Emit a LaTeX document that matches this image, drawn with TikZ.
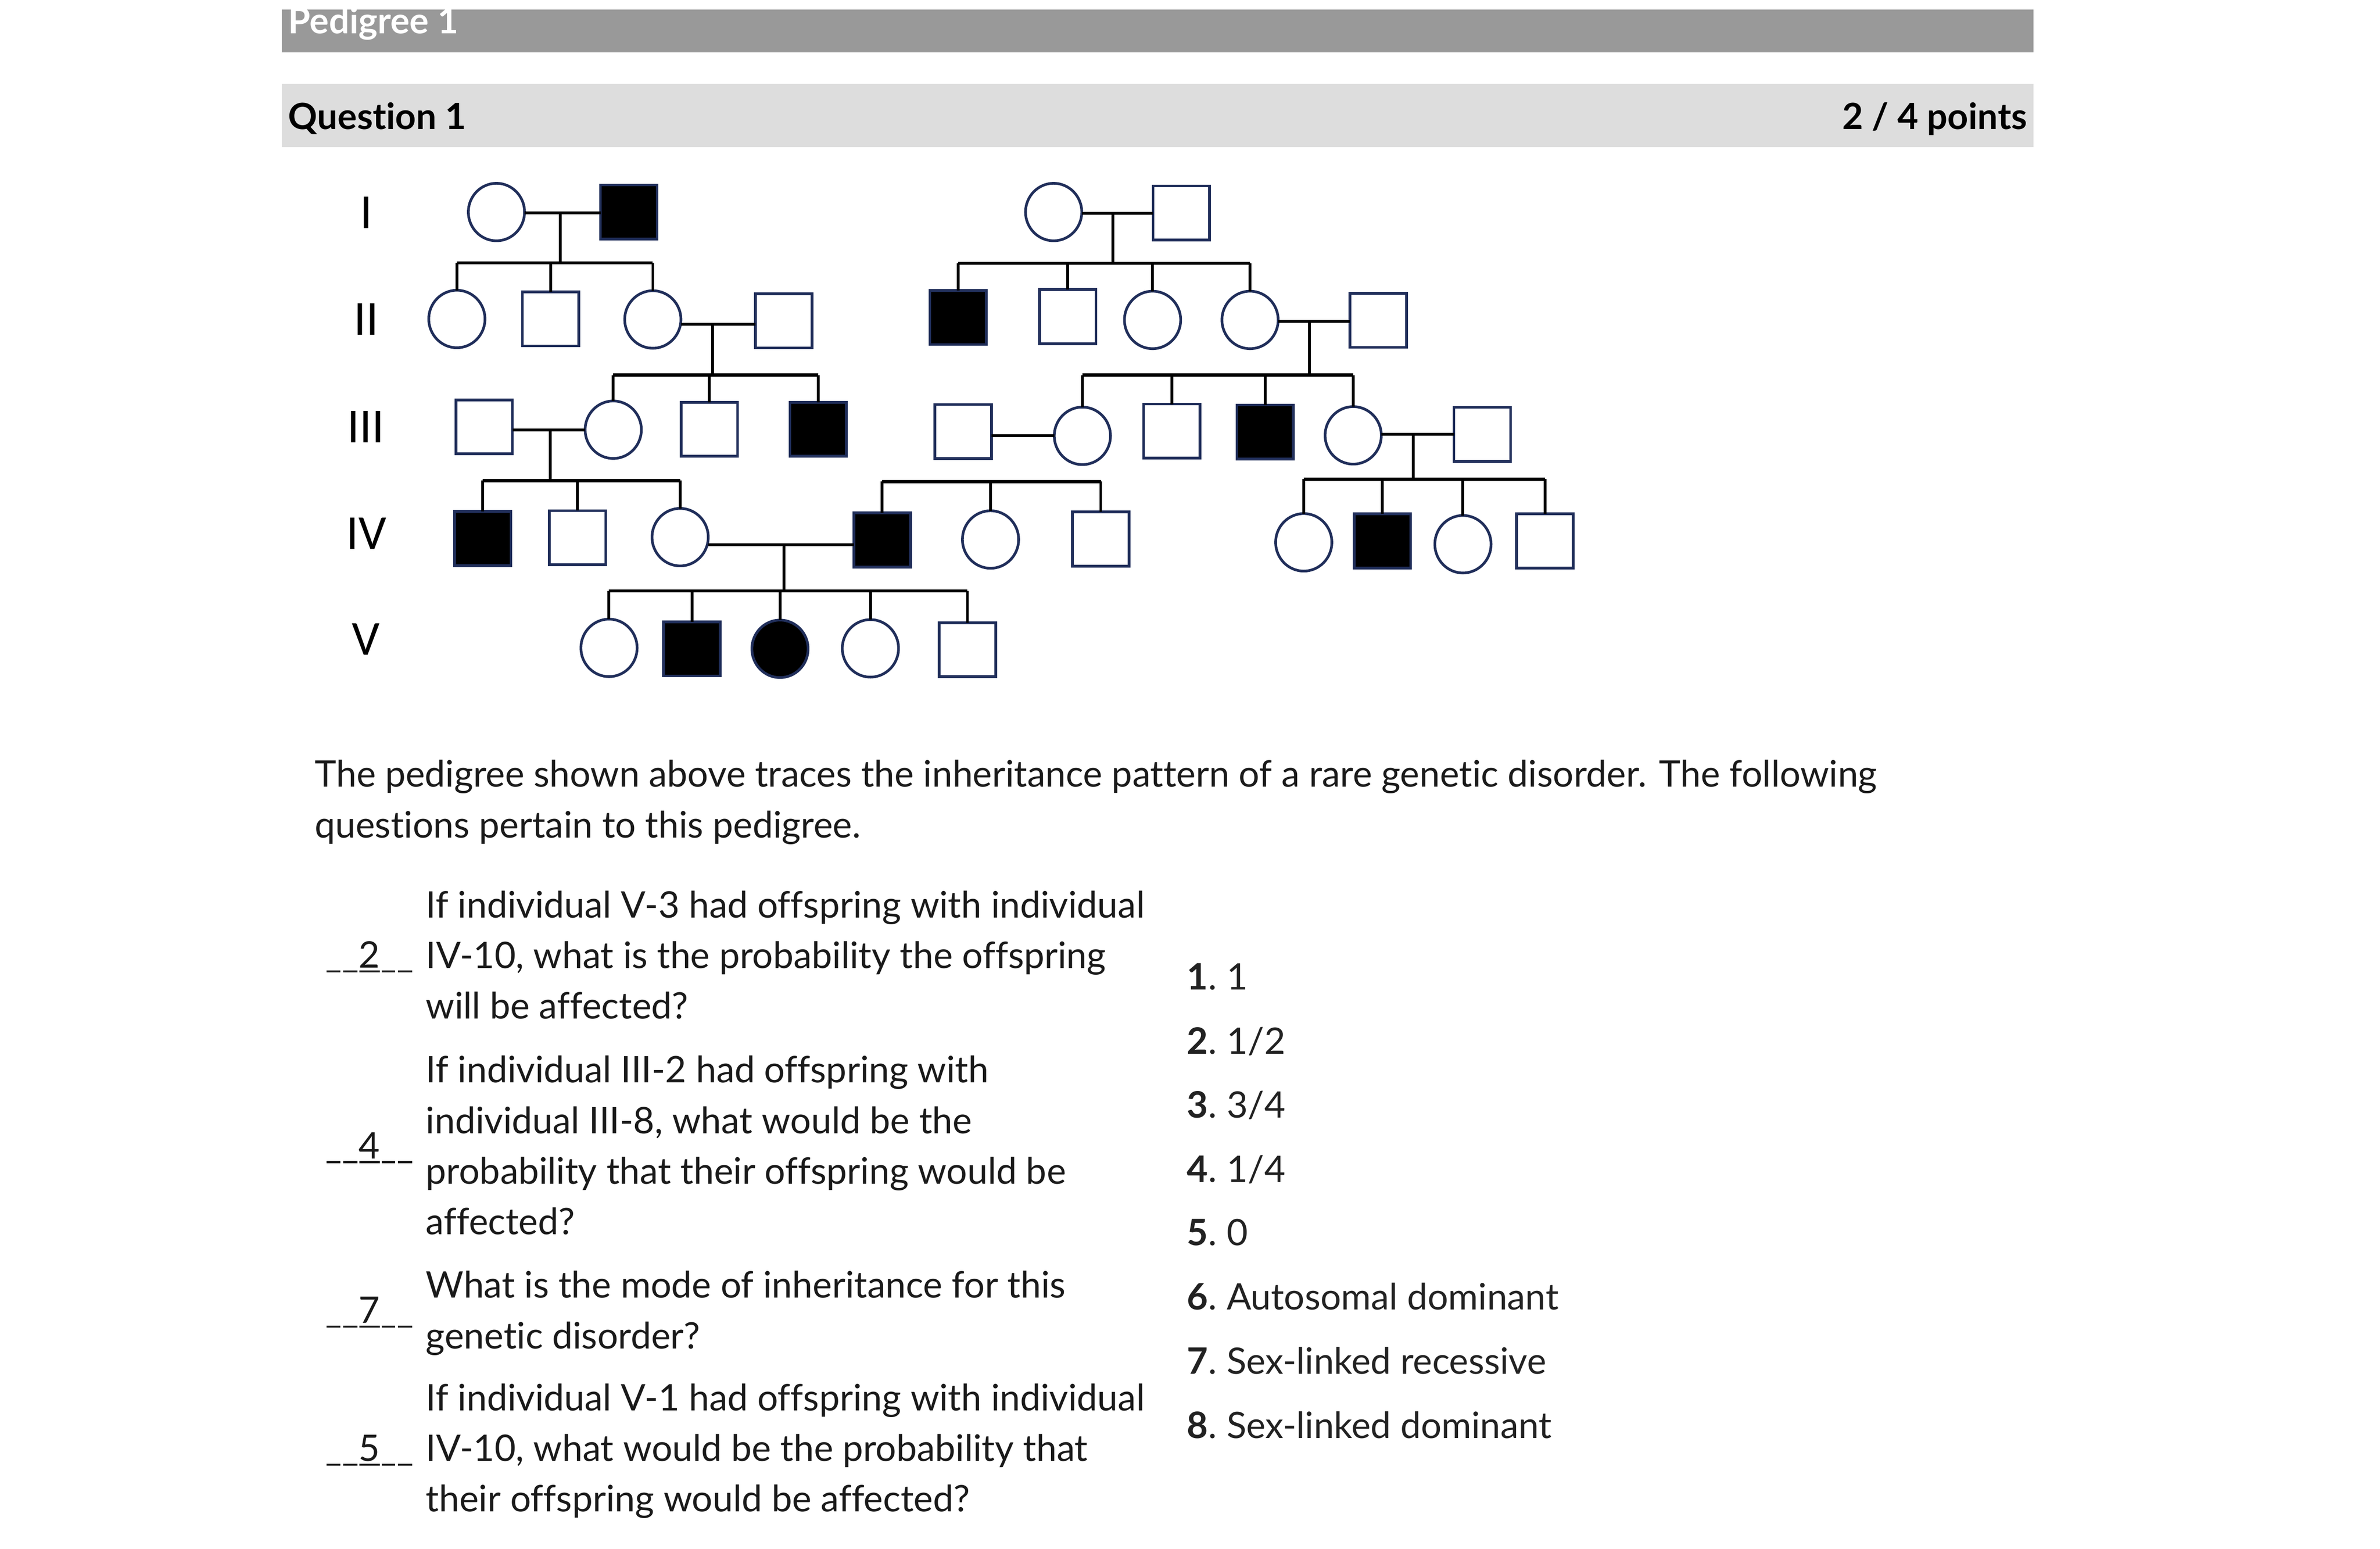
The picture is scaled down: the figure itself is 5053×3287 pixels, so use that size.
\documentclass[tikz,border=0pt]{standalone}
\usepackage{fontspec}
\setmainfont{Lato}[Ligatures={NoCommon}]
\newfontfamily\genfont{Carlito}
\usetikzlibrary{shapes.geometric}
\definecolor{navy}{RGB}{32,46,90}
\definecolor{darkbar}{HTML}{999999}
\definecolor{lightbar}{HTML}{DDDDDD}
\definecolor{ink}{HTML}{1A1A1A}
\definecolor{listink}{HTML}{222222}
\begin{document}
\begin{tikzpicture}[x=0.15pt,y=-0.15pt,
  fem/.style={ellipse, draw=navy, line width=0.85pt, minimum width=17.9pt, minimum height=18.3pt, inner sep=0pt, outer sep=0pt, fill=white},
  mal/.style={rectangle, draw=navy, line width=0.85pt, minimum width=18pt, minimum height=17.2pt, inner sep=0pt, outer sep=0pt, fill=white},
  aff/.style={fill=black},
  conn/.style={line width=0.9pt, draw=black},
  sib/.style={line width=1.0pt, draw=black},
  gen/.style={font=\genfont\fontsize{15.6pt}{18pt}\selectfont, anchor=base, inner sep=0pt, text=black},
  txt/.style={font=\fontsize{11.65pt}{16pt}\selectfont, anchor=base west, inner sep=0pt, text=ink},
  ans/.style={font=\fontsize{11.65pt}{16pt}\selectfont, anchor=base, inner sep=0pt, text=ink},
  lst/.style={font=\fontsize{11.6pt}{16pt}\selectfont, anchor=base west, inner sep=0pt, text=listink},
  hdr/.style={font=\bfseries\fontsize{11.45pt}{14pt}\selectfont, anchor=base west, inner sep=0pt},
  hdrq/.style={font=\bfseries\fontsize{11.5pt}{14pt}\selectfont, anchor=base west, inner sep=0pt, text=black},
  blank/.style={line width=0.68pt, draw=ink}
]
\fill[white] (0,0) rectangle (5053,3287);
\useasboundingbox (0,0) rectangle (5053,3287);

% header bars
\fill[darkbar] (598,20) rectangle (4317,111);
\fill[lightbar] (598,178) rectangle (4317,312);
\begin{scope}
\clip (598,20) rectangle (4317,111);
\node[hdr, text=white] (ped) at (611,71.5) {Pedigree 1};
\end{scope}
\node[hdrq] (qhead) at (611,274) {Question 1};
\node[hdrq, anchor=base east] (pts) at (4305,274) {2 / 4 points};

% generation labels
\node[gen] (g1) at (778,485) {I};
\node[gen] (g2) at (778,711) {II};
\node[gen] (g3) at (777,939) {III};
\node[gen] (g4) at (778,1166) {IV};
\node[gen] (g5) at (777,1390) {V};

% generation I
\node[fem] (I1) at (1054,450) {};
\node[mal,aff] (I2) at (1335,450) {};
\node[fem] (I3) at (2237,450) {};
\node[mal] (I4) at (2508,452) {};

% generation II
\node[fem] (II1) at (970,677) {};
\node[mal] (II2) at (1169,677) {};
\node[fem] (II3) at (1386,678) {};
\node[mal] (II4) at (1664,681) {};
\node[mal,aff] (II5) at (2034,674) {};
\node[mal] (II6) at (2267,672) {};
\node[fem] (II7) at (2447,679) {};
\node[fem] (II8) at (2654,679) {};
\node[mal] (II9) at (2926,680) {};

% generation III
\node[mal] (III1) at (1028,906) {};
\node[fem] (III2) at (1302,912) {};
\node[mal] (III3) at (1506,911) {};
\node[mal,aff] (III4) at (1737,911) {};
\node[mal] (III5) at (2045,916) {};
\node[fem] (III6) at (2298,925) {};
\node[mal] (III7) at (2488,915) {};
\node[mal,aff] (III8) at (2686,917) {};
\node[fem] (III9) at (2873,924) {};
\node[mal] (III10) at (3147,922) {};

% generation IV
\node[mal,aff] (IV1) at (1025,1143) {};
\node[mal] (IV2) at (1226,1141) {};
\node[fem] (IV3) at (1444,1140) {};
\node[mal,aff] (IV4) at (1873,1146) {};
\node[fem] (IV5) at (2103,1145) {};
\node[mal] (IV6) at (2337,1144) {};
\node[fem] (IV7) at (2768,1151) {};
\node[mal,aff] (IV8) at (2935,1148) {};
\node[fem] (IV9) at (3106,1155) {};
\node[mal] (IV10) at (3280,1148) {};

% generation V
\node[fem] (V1) at (1293,1375) {};
\node[mal,aff] (V2) at (1469,1377) {};
\node[fem,aff] (V3) at (1656,1377) {};
\node[fem] (V4) at (1848,1376) {};
\node[mal] (V5) at (2054,1379) {};

% marriage lines
\draw[conn] (I1.east |- 0,452) -- (I2.west |- 0,452);
\draw[conn] (I3.east |- 0,453) -- (I4.west |- 0,453);
\draw[conn] (II3.east |- 0,688) -- (II4.west |- 0,688);
\draw[conn] (II8.east |- 0,682) -- (II9.west |- 0,682);
\draw[conn] (III1.east |- 0,913) -- (III2.west |- 0,913);
\draw[conn] (III5.east |- 0,925) -- (III6.west |- 0,925);
\draw[conn] (III9.east |- 0,922) -- (III10.west |- 0,922);
\draw[conn] (IV3.east |- 0,1156) -- (IV4.west |- 0,1156);

% descent points
\coordinate (mA) at (1189,452);  \coordinate (sA) at (1189,558);
\coordinate (mB) at (2363,453);  \coordinate (sB) at (2363,559);
\coordinate (mC) at (1513,688);  \coordinate (sC) at (1513,796);
\coordinate (mD) at (2780,682);  \coordinate (sD) at (2780,796);
\coordinate (mE) at (1168,913);  \coordinate (sE) at (1168,1020);
\coordinate (sF) at (2100,1022);
\coordinate (mG) at (3000,922);  \coordinate (sG) at (3000,1017);
\coordinate (mH) at (1664,1156); \coordinate (sH) at (1664,1254);

\draw[conn] (mA) -- (sA);
\draw[conn] (mB) -- (sB);
\draw[conn] (mC) -- (sC);
\draw[conn] (mD) -- (sD);
\draw[conn] (mE) -- (sE);
\draw[conn] (mG) -- (sG);
\draw[conn] (mH) -- (sH);

% sibship lines and drops
\draw[sib] (II1.north |- sA) -- (II3.north |- sA);
\foreach \c in {II1,II2,II3} \draw[conn] (\c.north |- sA) -- (\c.north);
\draw[sib] (II5.north |- sB) -- (II8.north |- sB);
\foreach \c in {II5,II6,II7,II8} \draw[conn] (\c.north |- sB) -- (\c.north);
\draw[sib] (III2.north |- sC) -- (III4.north |- sC);
\foreach \c in {III2,III3,III4} \draw[conn] (\c.north |- sC) -- (\c.north);
\draw[sib] (III6.north |- sD) -- (III9.north |- sD);
\foreach \c in {III6,III7,III8,III9} \draw[conn] (\c.north |- sD) -- (\c.north);
\draw[sib] (IV1.north |- sE) -- (IV3.north |- sE);
\foreach \c in {IV1,IV2,IV3} \draw[conn] (\c.north |- sE) -- (\c.north);
\draw[sib] (IV4.north |- sF) -- (IV6.north |- sF);
\foreach \c in {IV4,IV5,IV6} \draw[conn] (\c.north |- sF) -- (\c.north);
\draw[sib] (IV7.north |- sG) -- (IV10.north |- sG);
\foreach \c in {IV7,IV8,IV9,IV10} \draw[conn] (\c.north |- sG) -- (\c.north);
\draw[sib] (V1.north |- sH) -- (V5.north |- sH);
\foreach \c in {V1,V2,V3,V4,V5} \draw[conn] (\c.north |- sH) -- (\c.north);

% paragraph
\node[txt] (p1) at (667,1670) {The pedigree shown above traces the inheritance pattern of a rare genetic disorder. The following};
\node[txt] (p2) at (667,1778) {questions pertain to this pedigree.};

% questions
\node[txt] (q1a) at (903,1948) {If individual V-3 had offspring with individual};
\node[txt] (q1b) at (903,2055) {IV-10, what is the probability the offspring};
\node[txt] (q1c) at (903,2162) {will be affected?};
\node[txt] (q2a) at (903,2298) {If individual III-2 had offspring with};
\node[txt] (q2b) at (903,2406) {individual III-8, what would be the};
\node[txt] (q2c) at (903,2513) {probability that their offspring would be};
\node[txt] (q2d) at (903,2620) {affected?};
\node[txt] (q3a) at (903,2754) {What is the mode of inheritance for this};
\node[txt] (q3b) at (903,2862) {genetic disorder?};
\node[txt] (q4a) at (903,2994) {If individual V-1 had offspring with individual};
\node[txt] (q4b) at (903,3101) {IV-10, what would be the probability that};
\node[txt] (q4c) at (903,3208) {their offspring would be affected?};

% answer blanks
\foreach \b/\d/\n in {2054/2/a1, 2459/4/a2, 2808/7/a3, 3101/5/a4}{
  \node[ans] (\n) at (784,\b) {\d};
  \foreach \xa/\xb in {693/723, 729/759, 763/806, 810/839, 845/875}
    \draw[blank] (\xa,\b+7.5) -- (\xb,\b+7.5);
}

% answer list
\foreach \b/\k/\t [count=\i] in {2101/1/1, 2237/2/1\slash 2, 2372/3/3\slash 4, 2509/4/1\slash 4, 2643/5/0, 2780/6/Autosomal dominant, 2916/7/Sex-linked recessive, 3052/8/Sex-linked dominant}{
  \node[lst] (n\i) at (2519,\b) {{\bfseries \k}.};
  \node[lst] (c\i) at (2603,\b) {\t};
}
\end{tikzpicture}
\end{document}
